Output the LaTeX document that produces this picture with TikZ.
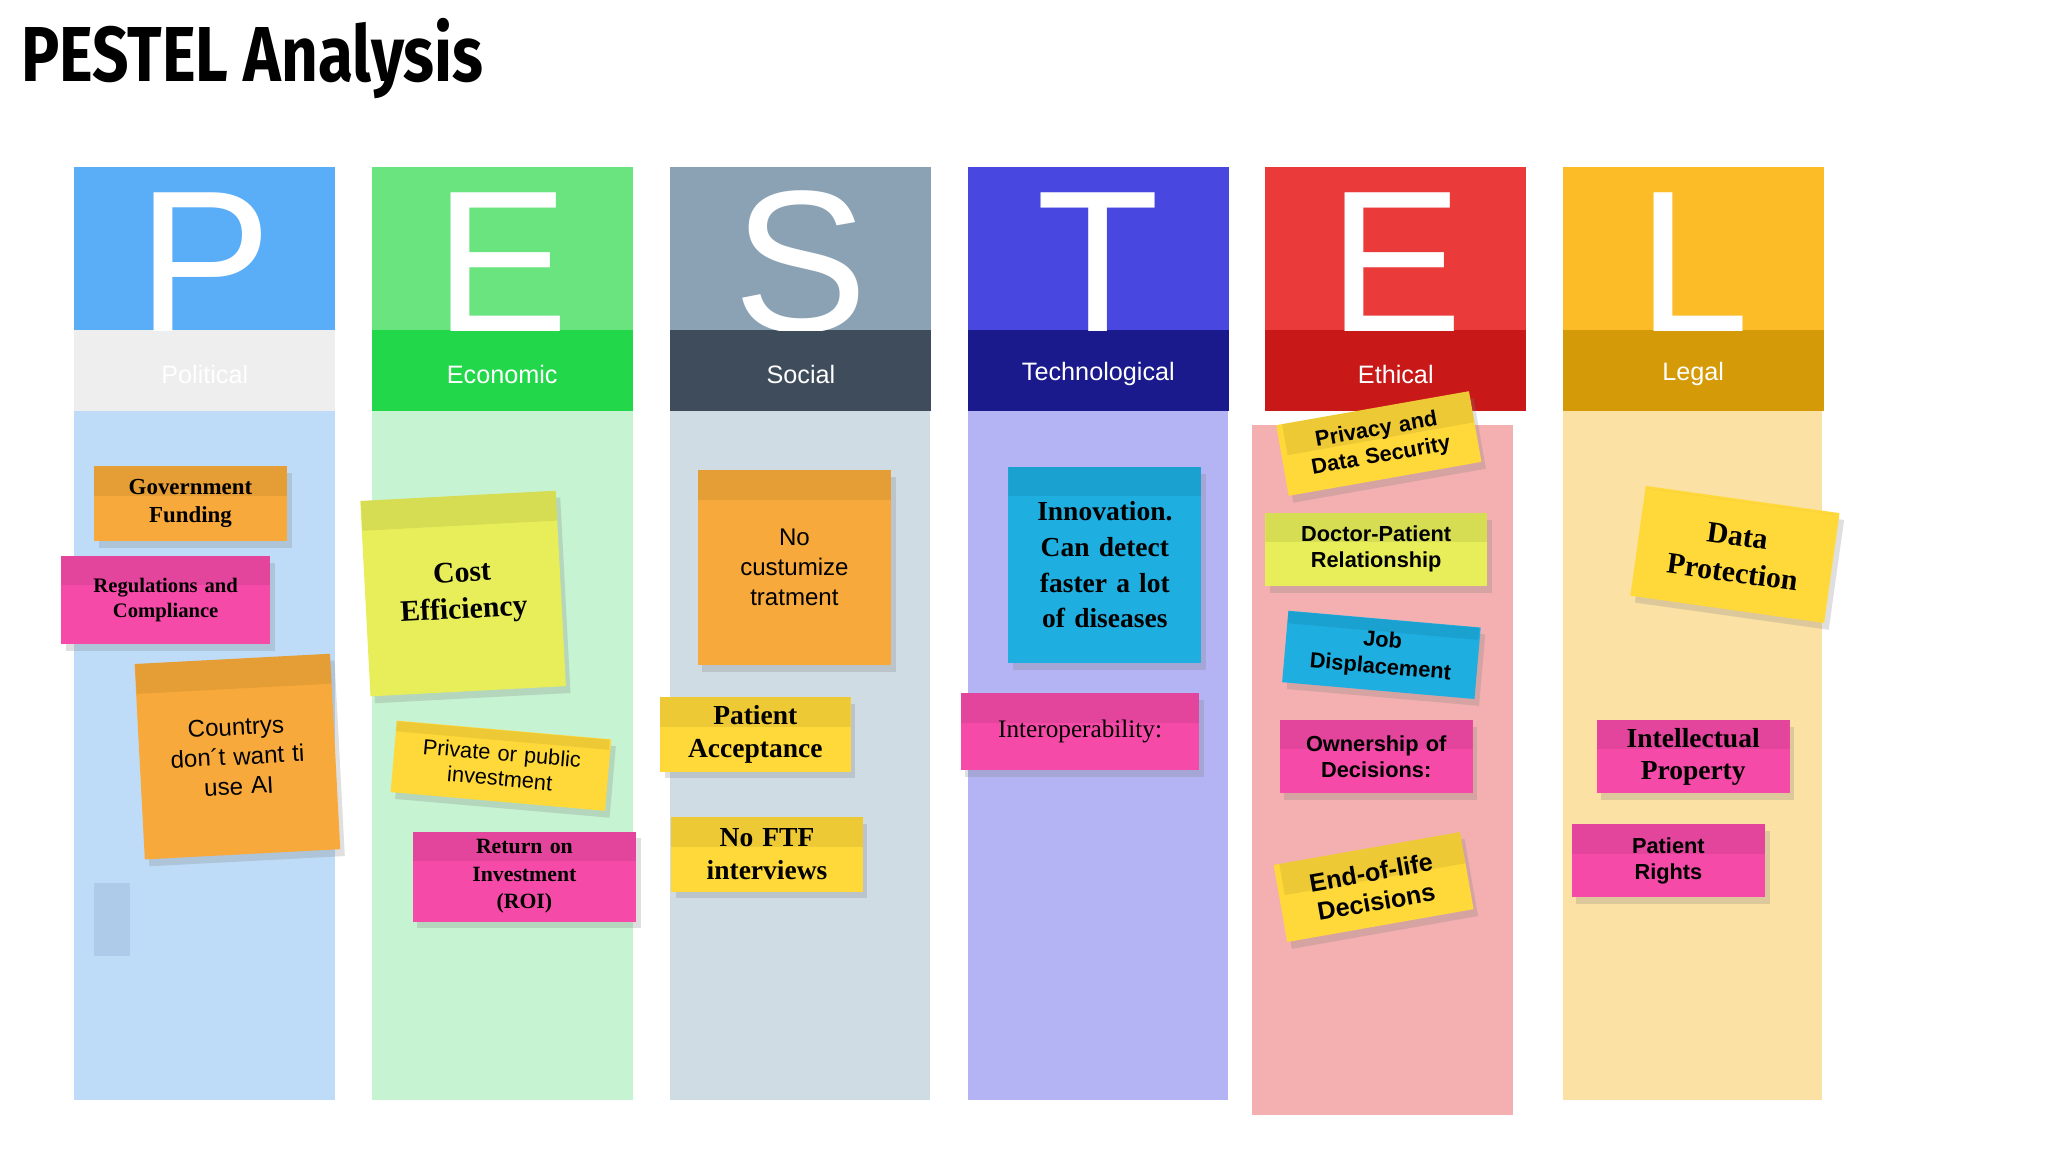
\documentclass[tikz,border=0pt]{standalone}
\usepackage{fontspec}
\setmainfont{Liberation Serif}
\setsansfont{Liberation Sans}
\newfontfamily\titlefont{Fira Sans}
\usetikzlibrary{shadows}
\definecolor{pA}{HTML}{5AAEF8}\definecolor{pB}{HTML}{EEEEEE}\definecolor{pC}{HTML}{BEDCF8}
\definecolor{eA}{HTML}{6AE47E}\definecolor{eB}{HTML}{22D84A}\definecolor{eC}{HTML}{C6F3D2}
\definecolor{sA}{HTML}{8AA2B4}\definecolor{sB}{HTML}{3E4C5C}\definecolor{sC}{HTML}{D0DCE4}
\definecolor{tA}{HTML}{4848E0}\definecolor{tB}{HTML}{1A1A8C}\definecolor{tC}{HTML}{B4B4F4}
\definecolor{hA}{HTML}{EA3A3A}\definecolor{hB}{HTML}{C81818}\definecolor{hC}{HTML}{F4B0B0}
\definecolor{lA}{HTML}{FBBC28}\definecolor{lB}{HTML}{D49A08}\definecolor{lC}{HTML}{FBE1A4}
\definecolor{nOr}{HTML}{F7A93B}\definecolor{nPk}{HTML}{F54AA8}\definecolor{nYe}{HTML}{FFD93A}
\definecolor{nLi}{HTML}{E8EE5A}\definecolor{nBl}{HTML}{1EAEE0}\definecolor{smallbl}{HTML}{AECBEA}
\tikzset{
  notebox/.style={draw=none, inner sep=2pt, align=center,
    drop shadow={shadow xshift=2pt,shadow yshift=-3pt,opacity=0.25},
    path picture={\fill[black,opacity=0.07] (path picture bounding box.north west) rectangle ([yshift=-0.45cm]path picture bounding box.north east);}},
  colletter/.style={text=white, anchor=base, font=\sffamily\fontsize{88}{88}\selectfont},
  colband/.style={text=white, font=\sffamily\fontsize{11}{11}\selectfont},
}
% #1 name, #2 x, #3 y, #4 w, #5 h, #6 rot, #7 color, #8 font, #9 text
\newcommand\mynote[9]{\node[notebox, fill=#7, rotate=#6, minimum width=#4*0.02cm, minimum height=#5*0.02cm, text width=#4*0.02cm-8pt, font=#8] (#1) at (#2,#3) {#9};}
\newcommand\mycol[6]{%
  \fill[#3] (#2,128) rectangle ++(200,125);
  \fill[#4] (#2,253) rectangle ++(200,62);
  \begin{scope}
    \clip (#2,128) rectangle ++(200,125);
    \node[colletter] (#1L) at (#2+100,254) {#5};
  \end{scope}
  \node[colband] (#1B) at (#2+100,287) {#6};
}
\begin{document}
\begin{tikzpicture}[x=0.02cm,y=-0.02cm]
\useasboundingbox (0,0) rectangle (1570,883);
\fill[white] (0,0) rectangle (1570,883);
\node[anchor=west, font=\titlefont\bfseries\fontsize{34}{34}\selectfont] (title) at (10,45) {\scalebox{0.82}[1]{PESTEL Analysis}};
\fill[pC] (57,315) rectangle (257,843);
\fill[eC] (285,315) rectangle (485,843);
\fill[sC] (514,315) rectangle (713,843);
\fill[tC] (742,315) rectangle (941,843);
\fill[hC] (960,326) rectangle (1160,855);
\fill[lC] (1198,315) rectangle (1397,843);
\mycol{p}{57}{pA}{pB}{P}{Political}
\mycol{e}{285}{eA}{eB}{E}{Economic}
\mycol{s}{514}{sA}{sB}{S}{Social}
\mycol{t}{742}{tA}{tB}{T}{Technological}
\mycol{h}{970}{hA}{hB}{E}{Ethical}
\mycol{l}{1198}{lA}{lB}{L}{Legal}
\fill[smallbl] (72,677) rectangle (100,733);
\mynote{n1}{146}{386}{148}{57}{0}{nOr}{\bfseries\fontsize{10}{12}\selectfont}{Government\\Funding}
\mynote{n2}{127}{460}{160}{68}{0}{nPk}{\bfseries\fontsize{9}{11}\selectfont}{Regulations and\\Compliance}
\mynote{n3}{182}{580}{150}{150}{3}{nOr}{\sffamily\fontsize{10.5}{13}\selectfont}{Countrys\\don´t want ti\\use AI}
\mynote{n4}{355}{455}{150}{150}{3}{nLi}{\bfseries\fontsize{13}{16}\selectfont}{Cost\\Efficiency}
\mynote{n5}{384}{587}{165}{55}{-5}{nYe}{\sffamily\fontsize{9.5}{11}\selectfont}{Private or public\\investment}
\mynote{n6}{402}{672}{171}{69}{0}{nPk}{\bfseries\fontsize{9.5}{12}\selectfont}{Return on\\Investment\\(ROI)}
\mynote{n7}{609}{435}{148}{149}{0}{nOr}{\sffamily\fontsize{10.5}{13}\selectfont}{No\\custumize\\tratment}
\mynote{n8}{579}{563}{146}{57}{0}{nYe}{\bfseries\fontsize{12}{14.5}\selectfont}{Patient\\Acceptance}
\mynote{n9}{588}{655}{147}{57}{0}{nYe}{\bfseries\fontsize{12}{14.5}\selectfont}{No FTF\\interviews}
\mynote{n10}{847}{433}{148}{150}{0}{nBl}{\bfseries\fontsize{12}{15.5}\selectfont}{Innovation.\\Can detect\\faster a lot\\of diseases}
\mynote{n11}{828}{561}{183}{59}{0}{nPk}{\fontsize{11}{13}\selectfont}{Interoperability:}
\mynote{n12}{1057}{340}{150}{55}{10}{nYe}{\sffamily\bfseries\fontsize{9.5}{11.5}\selectfont}{Privacy and\\Data Security}
\mynote{n13}{1055}{421}{170}{56}{0}{nLi}{\sffamily\bfseries\fontsize{9.5}{11.5}\selectfont}{Doctor-Patient\\Relationship}
\mynote{n14}{1059}{502}{148}{55}{-5}{nBl}{\sffamily\bfseries\fontsize{9.5}{11.5}\selectfont}{Job\\Displacement}
\mynote{n15}{1055}{580}{148}{56}{0}{nPk}{\sffamily\bfseries\fontsize{9.5}{11.5}\selectfont}{Ownership of\\Decisions:}
\mynote{n16}{1053}{680}{145}{60}{10}{nYe}{\sffamily\bfseries\fontsize{11}{13}\selectfont}{End-of-life\\Decisions}
\mynote{n17}{1330}{425}{150}{85}{-8}{nYe}{\bfseries\fontsize{13}{16}\selectfont}{Data\\Protection}
\mynote{n18}{1298}{580}{148}{56}{0}{nPk}{\bfseries\fontsize{12}{14}\selectfont}{Intellectual\\Property}
\mynote{n19}{1279}{660}{148}{56}{0}{nPk}{\sffamily\bfseries\fontsize{9.5}{11.5}\selectfont}{Patient\\Rights}
\end{tikzpicture}
\end{document}
